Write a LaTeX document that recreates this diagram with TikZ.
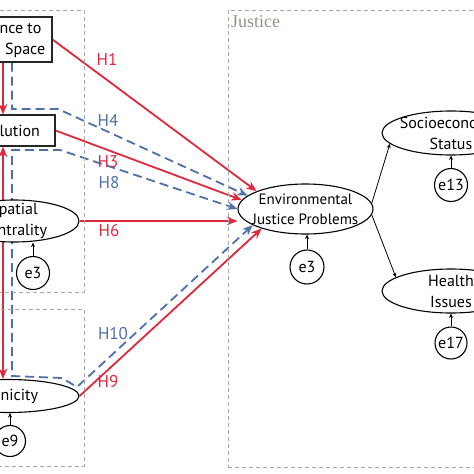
\documentclass[tikz,border=0pt]{standalone}
\usepackage{fontspec}
\setmainfont{PT Sans}
\newfontfamily\serifj{Liberation Serif}
\usetikzlibrary{arrows.meta,backgrounds,shapes.geometric}
\definecolor{hred}{HTML}{E0283C}
\definecolor{hblue}{HTML}{4D6FAA}
\definecolor{grpgray}{HTML}{A8A8A8}
\definecolor{jcol}{HTML}{9C8E86}
\begin{document}
\begin{tikzpicture}[x=1pt,y=-1pt,
  rbox/.style={draw=black!85, line width=1.1pt, fill=white, inner sep=0pt, rectangle},
  ell/.style={draw=black, line width=1.1pt, fill=white, ellipse, inner sep=0pt},
  err/.style={draw=black, line width=1.1pt, fill=white, circle, inner sep=0pt, minimum size=#1, font=\fontsize{16}{19}\selectfont},
  txt/.style={align=center, inner sep=0pt, font=\fontsize{16}{21}\selectfont},
  hlab/.style={inner sep=0pt, font=\fontsize{17}{20}\selectfont},
  redarr/.style={draw=hred, line width=1.8pt, -{Stealth[length=10.5pt,width=8.5pt]}},
  bluearr/.style={draw=hblue, line width=1.8pt, dash pattern=on 9pt off 5pt, -{Stealth[length=10.5pt,width=8.5pt]}},
  blkarr/.style={draw=black, line width=0.8pt, -{Stealth[length=4.5pt,width=4pt]}},
  grp/.style={draw=grpgray, line width=1pt, dash pattern=on 4pt off 3pt}]
\useasboundingbox (0,0) rectangle (474,474);
\clip (0,0) rectangle (474,474);

% group frames
\node[grp, rectangle, minimum width=184, minimum height=282, inner sep=0pt] (grpA) at (-8,151) {};
\node[grp, rectangle, minimum width=184, minimum height=157, inner sep=0pt] (grpB) at (-8,387.5) {};
\node[grp, rectangle, minimum width=300, minimum height=457, inner sep=0pt] (grpC) at (378,238.5) {};
\node[anchor=base west, inner sep=0pt, text=jcol, font=\serifj\fontsize{18}{20}\selectfont] (jlab) at (231,27) {Justice};

% left constructs
\node[rbox, minimum width=98, minimum height=45] (dist) at (3,39.5) {};
\node[txt] (distT) at (dist.center) {Distance to\\Green Space};
\node[rbox, minimum width=92, minimum height=31] (poll) at (9,130.5) {};
\node[txt] (pollT) at (poll.center) {Pollution};
\node[ell, minimum width=130, minimum height=42] (spat) at (14,221) {};
\node[txt] (spatT) at (spat.center) {Spatial\\Centrality};
\node[err=33] (e3a) at (33,273) {e3};
\node[ell, minimum width=142, minimum height=33] (eth) at (8,396) {};
\node[txt] (ethT) at (eth.center) {Ethnicity};
\node[err=31] (e9) at (10,441) {e9};

% justice constructs
\node[ell, minimum width=135, minimum height=50] (env) at (305.5,209) {};
\node[txt, font=\fontsize{15}{20}\selectfont] (envT) at (env.center) {Environmental\\Justice Problems};
\node[err=34] (e3b) at (307,267) {e3};
\node[ell, minimum width=138, minimum height=44] (socio) at (451,133) {};
\node[txt] (socioT) at (socio.center) {Socioeconomic\\Status};
\node[err=33] (e13) at (451,185) {e13};
\node[ell, minimum width=138, minimum height=44] (health) at (451,291) {};
\node[txt] (healthT) at (health.center) {Health\\Issues};
\node[err=32] (e17) at (451,343) {e17};

% labels
\node[hlab, text=hred] (lH1) at (107,59) {H1};
\node[hlab, text=hblue] (lH4) at (108,120) {H4};
\node[hlab, text=hred] (lH3) at (108,162) {H3};
\node[hlab, text=hblue] (lH8) at (109,183) {H8};
\node[hlab, text=hred] (lH6) at (109,231) {H6};
\node[hlab, text=hblue] (lH10) at (113,334) {H10};
\node[hlab, text=hred] (lH9) at (108,382) {H9};

\coordinate (rx) at (3,0);
\coordinate (bx) at (12,0);
\coordinate (h4a) at (58,109);
\coordinate (h8a) at (60,150);
\coordinate (h10a) at (12,376);
\coordinate (h10b) at (62,378);
\coordinate (h10c) at (77,387);

\begin{pgfonlayer}{background}
\clip (0,0) rectangle (474,474);
% red verticals
\draw[redarr] (dist.south -| rx) -- (poll.north -| rx);
\draw[redarr] (spat.center -| rx) -- (poll.south -| rx);
\draw[redarr] (spat.center -| rx) -- (eth.north -| rx);
% blue mediated paths
\draw[bluearr] (dist.south -| bx) |- (h4a) -- (env.167);
\draw[bluearr] (spat.center -| bx) |- (h8a) -- (env.180);
\draw[bluearr] (spat.center -| bx) -- (h10a) -- (h10b) -- (h10c) -- (env.197);
% red direct paths
\draw[redarr] (dist.east) -- (env.160);
\draw[redarr] (poll.east) -- (env.172);
\draw[redarr] (spat.east) -- (spat.east -| env.west);
\draw[redarr] (eth.east) -- (env.204);
% black arrows
\draw[blkarr] (env.5) -- (socio.190);
\draw[blkarr] (env.-5) -- (health.166);
\draw[blkarr] (e3a) -- (e3a |- spat.south);
\draw[blkarr] (e9) -- (e9 |- eth.south);
\draw[blkarr] (e3b) -- (env.south -| e3b);
\draw[blkarr] (e13) -- (socio.south);
\draw[blkarr] (e17) -- (health.south);
\end{pgfonlayer}
\end{tikzpicture}
\end{document}
